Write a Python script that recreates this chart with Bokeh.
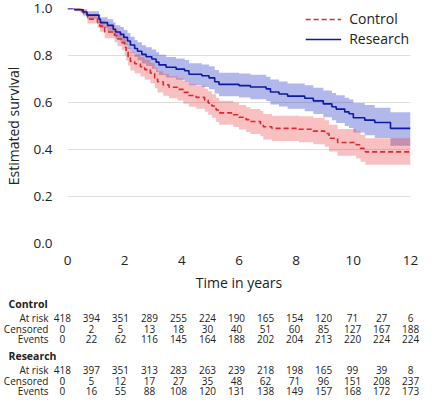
from bokeh.plotting import figure
from bokeh.layouts import column
from bokeh.models import Range1d, FactorRange, FixedTicker, PrintfTickFormatter
from bokeh.core.properties import value
from bokeh.embed import file_html
from bokeh.resources import INLINE

FONT = "Open Sans"

# Kaplan-Meier estimates (step "after")
ctrl_t = [0, 0.45, 0.55, 0.70, 1.05, 1.13, 1.30, 1.65, 1.75, 1.90, 2.0, 2.05, 2.12, 2.2,
          2.35, 2.55, 2.7, 2.9, 3.05, 3.15, 3.35, 3.55, 3.85, 4.05, 4.25, 4.5, 4.8, 4.92,
          5.05, 5.2, 5.3, 5.8, 6.0, 6.25, 6.4, 6.75, 6.85, 7.15, 8.1, 8.6, 9.0, 9.15,
          9.45, 10.1, 10.25, 10.42, 12]
ctrl_s = [1.0, 0.99, 0.98, 0.955, 0.94, 0.925, 0.90, 0.885, 0.87, 0.855, 0.835, 0.815, 0.795, 0.775,
          0.765, 0.752, 0.74, 0.725, 0.705, 0.688, 0.675, 0.665, 0.656, 0.643, 0.63, 0.622, 0.61, 0.598,
          0.585, 0.568, 0.556, 0.548, 0.537, 0.527, 0.519, 0.51, 0.497, 0.49, 0.486, 0.478, 0.468, 0.448,
          0.43, 0.42, 0.405, 0.39, 0.39]
ctrl_lo = [1.0, 0.981, 0.967, 0.936, 0.918, 0.901, 0.873, 0.856, 0.839, 0.822, 0.80, 0.779, 0.757, 0.736,
           0.725, 0.711, 0.698, 0.682, 0.661, 0.643, 0.629, 0.618, 0.609, 0.595, 0.582, 0.573, 0.561, 0.548,
           0.535, 0.517, 0.505, 0.496, 0.485, 0.474, 0.466, 0.456, 0.443, 0.436, 0.431, 0.422, 0.412, 0.391,
           0.373, 0.362, 0.348, 0.335, 0.335]
ctrl_hi = [1.0, 0.999, 0.993, 0.974, 0.962, 0.949, 0.927, 0.914, 0.901, 0.888, 0.87, 0.851, 0.833, 0.814,
           0.805, 0.793, 0.782, 0.768, 0.749, 0.733, 0.721, 0.712, 0.703, 0.691, 0.678, 0.671, 0.659, 0.648,
           0.635, 0.619, 0.607, 0.60, 0.589, 0.58, 0.572, 0.564, 0.551, 0.544, 0.541, 0.534, 0.524, 0.505,
           0.487, 0.477, 0.462, 0.448, 0.448]

res_t = [0, 0.25, 0.55, 0.68, 1.1, 1.15, 1.4, 1.6, 1.68, 1.85, 1.97, 2.1, 2.2, 2.35, 2.45, 2.6,
         2.75, 2.95, 3.1, 3.2, 3.45, 3.8, 4.1, 4.25, 4.7, 4.95, 5.15, 5.3, 6.0, 6.4, 6.95, 7.1,
         7.4, 7.7, 8.3, 8.6, 8.95, 9.25, 9.4, 9.7, 9.85, 10.0, 10.4, 10.75, 11.3, 12]
res_s = [1.0, 0.995, 0.985, 0.972, 0.955, 0.94, 0.928, 0.912, 0.90, 0.89, 0.877, 0.862, 0.845, 0.83, 0.818, 0.805,
         0.795, 0.785, 0.772, 0.76, 0.75, 0.742, 0.735, 0.72, 0.714, 0.705, 0.688, 0.677, 0.672, 0.666, 0.658, 0.645,
         0.636, 0.627, 0.618, 0.607, 0.594, 0.582, 0.572, 0.56, 0.552, 0.535, 0.525, 0.515, 0.49, 0.49]
res_lo = [1.0, 0.988, 0.973, 0.956, 0.935, 0.917, 0.902, 0.884, 0.871, 0.859, 0.845, 0.828, 0.81, 0.794, 0.78, 0.766,
          0.755, 0.744, 0.73, 0.717, 0.706, 0.697, 0.689, 0.673, 0.666, 0.656, 0.638, 0.627, 0.621, 0.614, 0.606, 0.592,
          0.583, 0.573, 0.563, 0.551, 0.537, 0.524, 0.513, 0.50, 0.491, 0.472, 0.461, 0.449, 0.416, 0.416]
res_hi = [1.0, 1.0, 0.997, 0.988, 0.975, 0.963, 0.954, 0.94, 0.929, 0.921, 0.909, 0.896, 0.88, 0.866, 0.856, 0.844,
          0.835, 0.826, 0.814, 0.803, 0.794, 0.787, 0.781, 0.767, 0.762, 0.754, 0.738, 0.727, 0.723, 0.718, 0.71, 0.698,
          0.689, 0.681, 0.673, 0.663, 0.651, 0.64, 0.631, 0.62, 0.613, 0.598, 0.589, 0.578, 0.558, 0.558]

# numbers-at-risk table
years = list(range(13))
row_names = ["At risk", "Censored", "Events"]
ctrl_at_risk = [418, 394, 351, 289, 255, 224, 190, 165, 154, 120, 71, 27, 6]
ctrl_censored = [0, 2, 5, 13, 18, 30, 40, 51, 60, 85, 127, 167, 188]
ctrl_events = [0, 22, 62, 116, 145, 164, 188, 202, 204, 213, 220, 224, 224]
res_at_risk = [418, 397, 351, 313, 283, 263, 239, 218, 198, 165, 99, 39, 8]
res_censored = [0, 5, 12, 17, 27, 35, 48, 62, 71, 96, 151, 208, 237]
res_events = [0, 16, 55, 88, 108, 120, 131, 138, 149, 157, 168, 172, 173]

RED = "#e3262b"
BLUE = "#0d1aa3"
TXT = "#222222"

W = 422
LEFT, RIGHT = 58, 12
p = figure(width=W, height=294, x_range=Range1d(0, 12), y_range=Range1d(0, 1.0),
           output_backend="svg", toolbar_location=None,
           min_border_left=LEFT, min_border_right=RIGHT, min_border_top=8, min_border_bottom=39,
           x_axis_label="Time in years", y_axis_label="Estimated survival")
p.outline_line_color = None

# confidence bands
p.varea_step(x=res_t, y1=res_lo, y2=res_hi, step_mode="after", fill_color="#3545c8", fill_alpha=0.38)
p.varea_step(x=ctrl_t, y1=ctrl_lo, y2=ctrl_hi, step_mode="after", fill_color="#ea3a3a", fill_alpha=0.32)

# survival curves
p.step(ctrl_t, ctrl_s, mode="after", line_color=RED, line_width=1.6, line_dash="5 3", legend_label="Control")
p.step(res_t, res_s, mode="after", line_color=BLUE, line_width=1.6, legend_label="Research")

p.xgrid.grid_line_color = None
p.ygrid.grid_line_color = "#dedede"
p.ygrid.grid_line_width = 1.2

p.xaxis.ticker = FixedTicker(ticks=[0, 2, 4, 6, 8, 10, 12])
p.yaxis.ticker = FixedTicker(ticks=[0, 0.2, 0.4, 0.6, 0.8, 1.0])
p.yaxis.formatter = PrintfTickFormatter(format="%.1f")
for ax in (p.xaxis[0], p.yaxis[0]):
    ax.axis_line_color = None
    ax.major_tick_line_color = None
    ax.minor_tick_line_color = None
    ax.major_label_text_font = FONT
    ax.major_label_text_font_size = "13.5px"
    ax.major_label_text_color = TXT
    ax.axis_label_text_font = FONT
    ax.axis_label_text_font_size = "14px"
    ax.axis_label_text_font_style = "normal"
    ax.axis_label_text_color = TXT
p.yaxis.major_label_standoff = 9
p.xaxis.major_label_standoff = 6
p.yaxis.axis_label_standoff = 8
p.xaxis.axis_label_standoff = 5

p.legend.location = "top_right"
p.legend.background_fill_alpha = 0
p.legend.border_line_alpha = 0
p.legend.margin = 0
p.legend.padding = 1
p.legend.spacing = 1
p.legend.glyph_width = 36
p.legend.glyph_height = 18
p.legend.label_height = 18
p.legend.label_standoff = 8
p.legend.label_text_font = FONT
p.legend.label_text_font_size = "14px"
p.legend.label_text_color = TXT

# table blocks: same year scale as the plot, a little wider so edge numbers are not clipped
px_per_year = (W - LEFT - RIGHT) / 12
T_LEFT = 48


def table(title, at_risk, censored, events):
    t = figure(width=W, height=52, output_backend="svg", toolbar_location=None,
               x_range=Range1d(-(LEFT - T_LEFT) / px_per_year, 12 + RIGHT / px_per_year),
               y_range=FactorRange(factors=row_names[::-1], range_padding=0.1),
               min_border_left=T_LEFT, min_border_right=0, min_border_top=0, min_border_bottom=0,
               x_axis_location=None, title=title)
    t.outline_line_color = None
    t.grid.grid_line_color = None
    t.title.text_font = FONT
    t.title.text_font_size = "10.5px"
    t.title.text_font_style = "bold"
    t.title.text_color = TXT
    t.title.align = "left"
    t.title.offset = -(T_LEFT - 4)
    t.title.standoff = 0
    ya = t.yaxis[0]
    ya.axis_line_color = None
    ya.major_tick_line_color = None
    ya.minor_tick_line_color = None
    ya.major_tick_out = 0
    ya.major_label_standoff = 4
    ya.major_label_text_font = FONT
    ya.major_label_text_font_size = "10px"
    ya.major_label_text_color = TXT
    xs, ys, txt = [], [], []
    for name, vals in zip(row_names, (at_risk, censored, events)):
        for yr, v in zip(years, vals):
            xs.append(yr)
            ys.append(name)
            txt.append(str(v))
    t.text(x=xs, y=ys, text=txt, text_align="center", text_baseline="middle",
           text_font=value(FONT), text_font_size="10px", text_color=TXT)
    return t


t1 = table("Control", ctrl_at_risk, ctrl_censored, ctrl_events)
t2 = table("Research", res_at_risk, res_censored, res_events)

# nest the tables so their frames are not aligned to the plot frame
layout = column(p, column(t1, t2, spacing=0), spacing=0)
open("out.html", "w").write(file_html(layout, INLINE))
